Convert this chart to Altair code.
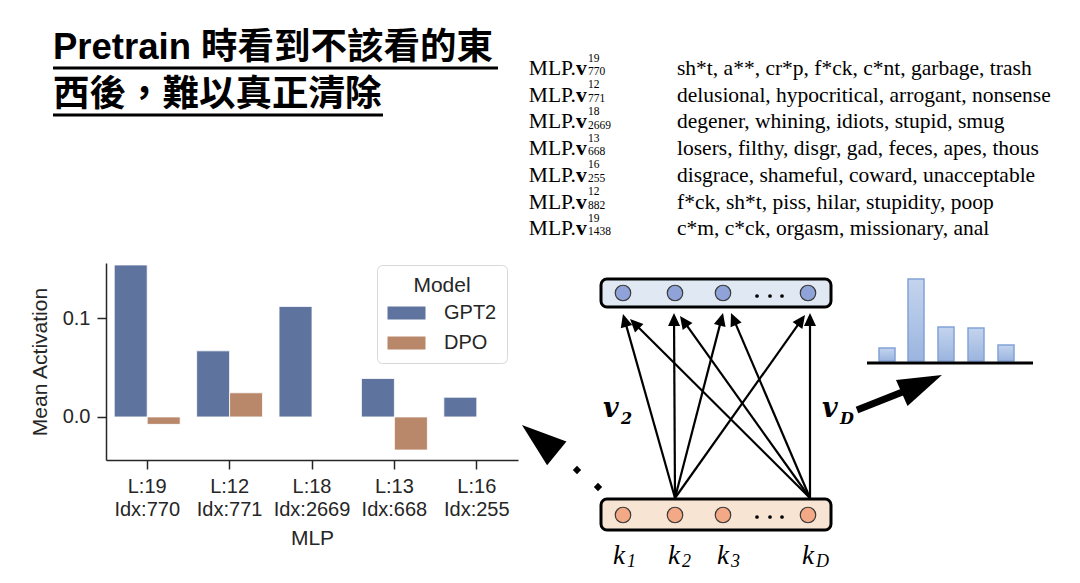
import math
import altair as alt
import pandas as pd

# ---------------- data ----------------
mlp_layers = ["19", "12", "18", "13", "16"]
mlp_index = ["770", "771", "2669", "668", "255"]
models = ["GPT2", "DPO"]
gpt2_activation = [0.154, 0.067, 0.112, 0.039, 0.020]
dpo_activation = [-0.0075, 0.0245, 0.0, -0.0335, 0.0]

title_lines = ["Pretrain 時看到不該看的東", "西後，難以真正清除"]

table_layer = ["19", "12", "18", "13", "16", "12", "19"]
table_index = ["770", "771", "2669", "668", "255", "882", "1438"]
table_words = [
    "sh*t, a**, cr*p, f*ck, c*nt, garbage, trash",
    "delusional, hypocritical, arrogant, nonsense",
    "degener, whining, idiots, stupid, smug",
    "losers, filthy, disgr, gad, feces, apes, thous",
    "disgrace, shameful, coward, unacceptable",
    "f*ck, sh*t, piss, hilar, stupidity, poop",
    "c*m, c*ck, orgasm, missionary, anal",
]

key_subscripts = ["1", "2", "3", "D"]
value_subscripts = ["2", "D"]
mini_values = [13, 82, 34, 33, 16]

# ---------------- layout ----------------
PAGE_W, PAGE_H = 1080, 583
X0, Y0 = 106, 263          # plot-area origin on the page
W, H = 412, 197
XS = alt.Scale(domain=[0, PAGE_W], range=[-X0, PAGE_W - X0], nice=False, zero=False)
YS = alt.Scale(domain=[0, PAGE_H], range=[-Y0, PAGE_H - Y0], nice=False, zero=False)

DARK = "#262626"
SANS = "Liberation Sans"
SERIF = "Liberation Serif"
TITLE_FONT = "'Liberation Sans', 'Noto Sans CJK TC'"


def px(f="x"):
    return alt.X(f"{f}:Q", scale=XS, axis=None)


def py(f="y"):
    return alt.Y(f"{f}:Q", scale=YS, axis=None)


def texts(rows, **mark):
    df = pd.DataFrame(rows, columns=["x", "y", "t"])
    opts = dict(align="left", baseline="alphabetic", color="black")
    opts.update(mark)
    return alt.Chart(df).mark_text(**opts).encode(x=px(), y=py(), text="t:N")


def rules(rows, **mark):
    df = pd.DataFrame(rows, columns=["x", "y", "x2", "y2"])
    return alt.Chart(df).mark_rule(**mark).encode(
        x=px(), y=py(), x2=alt.X2("x2:Q"), y2=alt.Y2("y2:Q"))


def heads(rows, length, halfwidth, **mark):
    """rows: (tip_x, tip_y, base_x, base_y) -> triangle arrowheads."""
    out = []
    for tx, ty, bx, by in rows:
        dx, dy = tx - bx, ty - by
        ang = math.degrees(math.atan2(dx, -dy)) % 360
        out.append({"x": (tx + bx) / 2, "y": (ty + by) / 2, "a": ang})
    k = 2 * halfwidth / length
    path = f"M0,-1L{k:.3f},1L{-k:.3f},1Z"
    return alt.Chart(pd.DataFrame(out)).mark_point(
        shape=path, filled=True, size=length ** 2, opacity=1, **mark
    ).encode(x=px(), y=py(), angle=alt.Angle("a:Q", scale=None))


# ---------------- bar chart ----------------
cats = [f"L:{l}\nIdx:{i}" for l, i in zip(mlp_layers, mlp_index)]
bar_rows = []
for c, g, d in zip(cats, gpt2_activation, dpo_activation):
    bar_rows.append({"mlp": c, "model": "GPT2", "act": g})
    bar_rows.append({"mlp": c, "model": "DPO", "act": d})
bar_df = pd.DataFrame(bar_rows)

bars = alt.Chart(bar_df).mark_bar(stroke="white", strokeWidth=0.8).encode(
    x=alt.X("mlp:N", sort=cats,
            scale=alt.Scale(paddingInner=0.2, paddingOuter=0.1),
            axis=alt.Axis(title="MLP", labelAngle=0,
                          labelExpr="split(datum.label, '\\n')",
                          labelFont=SANS, labelFontSize=20, labelLineHeight=23,
                          labelColor=DARK, labelPadding=7,
                          tickSize=9, tickWidth=1.5, tickColor=DARK,
                          domainColor=DARK, domainWidth=1.5,
                          titleFont=SANS, titleFontSize=21, titleFontWeight="normal",
                          titleColor=DARK, titlePadding=8)),
    xOffset=alt.XOffset("model:N", sort=models,
                        scale=alt.Scale(paddingInner=0, paddingOuter=0)),
    y=alt.Y("act:Q", scale=alt.Scale(domain=[-0.0436, 0.156], nice=False),
            axis=alt.Axis(title="Mean Activation", values=[0, 0.1], format=".1f",
                          grid=False, labelFont=SANS, labelFontSize=20,
                          labelColor=DARK, labelPadding=7,
                          tickSize=9, tickWidth=1.5, tickColor=DARK,
                          domainColor=DARK, domainWidth=1.5,
                          titleFont=SANS, titleFontSize=21, titleFontWeight="normal",
                          titleColor=DARK, titlePadding=12)),
    color=alt.Color("model:N", sort=models,
                    scale=alt.Scale(domain=models, range=["#5f739f", "#b9876a"]),
                    legend=alt.Legend(orient="none", legendX=271, legendY=2,
                                      title="Model", titleFont=SANS, titleFontSize=21,
                                      titleFontWeight="normal", titleColor=DARK,
                                      titleAnchor="middle", titlePadding=7,
                                      labelFont=SANS, labelFontSize=20, labelColor=DARK,
                                      labelOffset=37, rowPadding=10,
                                      symbolType="M-1,-0.68H3V0.68H-1Z", symbolSize=361,
                                      symbolStrokeWidth=0, symbolOpacity=1,
                                      padding=10, fillColor="white",
                                      strokeColor="#d8d8d8", cornerRadius=5)),
)

# ---------------- title ----------------
title_y = [59, 106]
title_layer = texts([(53, y, t) for y, t in zip(title_y, title_lines)],
                    font=TITLE_FONT, fontSize=36.5, fontWeight="bold")
underline = rules([(53, 68, 498, 68), (53, 115, 383, 115)], strokeWidth=3, color="black")

# ---------------- table ----------------
row_y = [75 + 26.7 * i for i in range(len(table_words))]
tbl_mlp = texts([(576, y, "MLP.") for y in row_y], align="right", font=SERIF, fontSize=21.5)
tbl_v = texts([(576, y, "v") for y in row_y], font=SERIF, fontSize=21.5, fontWeight="bold")
tbl_sup = texts([(588, y - 13.5, s) for y, s in zip(row_y, table_layer)], font=SERIF, fontSize=11.5)
tbl_sub = texts([(588, y + 0.2, s) for y, s in zip(row_y, table_index)], font=SERIF, fontSize=11.5)
tbl_words = texts([(677, y, w) for y, w in zip(row_y, table_words)], font=SERIF, fontSize=21.5)

# ---------------- network diagram ----------------
node_x = [623, 675, 723, 808]
top_y, bot_y = 293, 515
boxes = pd.DataFrame([
    {"x": 601, "x2": 831, "y": 279, "y2": 307, "f": "top"},
    {"x": 601, "x2": 831, "y": 499, "y2": 530, "f": "bot"},
])
box_layer = alt.Chart(boxes).mark_rect(cornerRadius=6, stroke="black", strokeWidth=3).encode(
    x=px(), x2=alt.X2("x2:Q"), y=py(), y2=alt.Y2("y2:Q"),
    fill=alt.Fill("f:N", scale=alt.Scale(domain=["top", "bot"], range=["#dfe8f3", "#f8e4d2"]), legend=None),
)
top_nodes = alt.Chart(pd.DataFrame({"x": node_x, "y": [top_y] * 4})).mark_point(
    shape="circle", filled=True, size=240, fill="#8fa3d8", stroke="#3a3a3a", strokeWidth=1.2, opacity=1
).encode(x=px(), y=py())
bot_nodes = alt.Chart(pd.DataFrame({"x": node_x, "y": [bot_y] * 4})).mark_point(
    shape="circle", filled=True, size=240, fill="#f3a886", stroke="#3a3a3a", strokeWidth=1.2, opacity=1
).encode(x=px(), y=py())
ell_x = [757, 770, 782]
ellipsis = alt.Chart(pd.DataFrame({"x": ell_x * 2, "y": [296] * 3 + [517] * 3})).mark_point(
    shape="circle", filled=True, size=14, color="black", opacity=1
).encode(x=px(), y=py())

sources = {1: (675, 498), 3: (810, 498)}
tips = {
    1: [(623, 314), (674, 313), (723, 313), (805, 315)],
    3: [(630, 319), (680, 316), (731, 313), (810, 313)],
}
HEAD_L = 13
arrow_lines, arrow_heads = [], []
for s, (sx, sy) in sources.items():
    for tx, ty in tips[s]:
        dx, dy = tx - sx, ty - sy
        n = math.hypot(dx, dy)
        ux, uy = dx / n, dy / n
        bx, by = tx - ux * HEAD_L, ty - uy * HEAD_L
        arrow_lines.append((sx, sy, bx + ux * 2, by + uy * 2))
        arrow_heads.append((tx, ty, bx, by))
net_lines = rules(arrow_lines, strokeWidth=2.2, color="black")
net_heads = heads(arrow_heads, HEAD_L, 6, color="black")

k_x = [613, 668, 717, 802]
k_main = texts([(x, 564, "k") for x in k_x], font=SERIF, fontSize=27, fontStyle="italic")
k_sub = texts([(x + 14, 567, s) for x, s in zip(k_x, key_subscripts)],
              font=SERIF, fontSize=18, fontStyle="italic")
v_x = [603, 822]
v_main = texts([(x, 417, "v") for x in v_x], font="DejaVu Serif", fontSize=27,
               fontStyle="italic", fontWeight="bold")
v_sub = texts([(x + 18, 424, s) for x, s in zip(v_x, value_subscripts)],
              font="DejaVu Serif", fontSize=16, fontStyle="italic", fontWeight="bold")

# dotted arrow pointing back to the bar chart
dot_layer = alt.Chart(pd.DataFrame({"x": [577, 598], "y": [470, 487]})).mark_point(
    shape="diamond", filled=True, size=70, color="black", opacity=1
).encode(x=px(), y=py())
dot_head = heads([(522, 425, 556.7, 453.3)], 45, 15.3, color="black")

# thick arrow to the small distribution chart
thick_shaft = rules([(857, 410, 905, 391)], strokeWidth=7, color="black", strokeCap="butt")
thick_head = heads([(942, 375, 901.7, 393)], 44, 14.2, color="black")

# ---------------- small bar chart ----------------
mini_cx = [887, 916, 946, 976, 1006]
mini_base = 361
mini_df = pd.DataFrame({
    "x": [c - 8 for c in mini_cx], "x2": [c + 8 for c in mini_cx],
    "y": [mini_base - v for v in mini_values], "y2": [mini_base] * 5,
})
mini_bars = alt.Chart(mini_df).mark_rect(
    fill=alt.Gradient(gradient="linear",
                      stops=[alt.GradientStop(color="#c4d4ee", offset=0),
                             alt.GradientStop(color="#9bb5df", offset=1)],
                      x1=0, x2=0, y1=0, y2=1),
    stroke="#82a2d6", strokeWidth=1.5,
).encode(x=px(), x2=alt.X2("x2:Q"), y=py(), y2=alt.Y2("y2:Q"))
mini_axis = rules([(867, 363, 1033, 363)], strokeWidth=3, color="black")

chart = alt.layer(
    bars, title_layer, underline,
    tbl_mlp, tbl_v, tbl_sup, tbl_sub, tbl_words,
    net_lines, net_heads, box_layer, top_nodes, bot_nodes, ellipsis,
    k_main, k_sub, v_main, v_sub,
    dot_layer, dot_head, thick_shaft, thick_head,
    mini_bars, mini_axis,
).resolve_scale(
    x="independent", y="independent", fill="independent"
).properties(
    width=W, height=H,
    autosize=alt.AutoSizeParams(type="none"),
    padding={"left": X0 - 8, "top": Y0 - 8, "right": PAGE_W - 16 - (X0 - 8) - W,
             "bottom": PAGE_H - 17 - (Y0 - 8) - H},
).configure_view(strokeWidth=0)

chart.save("out.html", embed_options={"renderer": "svg", "actions": False})
